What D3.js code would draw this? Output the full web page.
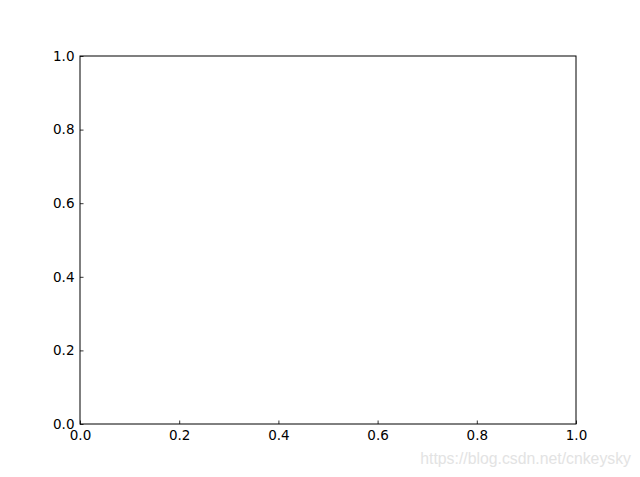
<!DOCTYPE html>
<html>
<head>
<meta charset="utf-8">
<script src="https://cdn.jsdelivr.net/npm/d3@7"></script>
<style>
  body { margin: 0; background: #fff; }
  svg { display: block; }
</style>
</head>
<body>
<svg></svg>
<script>
    const svgWidth = 640;
    const svgHeight = 477;

    // axis domains and tick labels
    const xDomain = [0, 1];
    const yDomain = [0, 1];
    const xTicks = [0.0, 0.2, 0.4, 0.6, 0.8, 1.0];
    const yTicks = [0.0, 0.2, 0.4, 0.6, 0.8, 1.0];
    const watermark = "https://blog.csdn.net/cnkeysky";

    const margin = { top: 56, right: 64, bottom: 53, left: 80 };
    const width = svgWidth - margin.left - margin.right;
    const height = svgHeight - margin.top - margin.bottom;

    const svg = d3.select("svg")
        .attr("width", svgWidth)
        .attr("height", svgHeight);

    const x = d3.scaleLinear().domain(xDomain).range([0, width]);
    const y = d3.scaleLinear().domain(yDomain).range([height, 0]);

    const g = svg.append("g")
        .attr("transform", `translate(${margin.left},${margin.top})`);

    // bottom axis, ticks pointing inward
    const xAxis = g.append("g")
        .attr("transform", `translate(0,${height})`)
        .call(d3.axisBottom(x).tickValues(xTicks).tickFormat(d3.format(".1f"))
            .tickSizeInner(-3.5).tickSizeOuter(0).tickPadding(6.5));

    const yAxis = g.append("g")
        .call(d3.axisLeft(y).tickValues(yTicks).tickFormat(d3.format(".1f"))
            .tickSizeInner(-3.5).tickSizeOuter(0).tickPadding(5.5));

    [xAxis, yAxis].forEach(a => {
        a.select(".domain").remove();
        a.selectAll("line").attr("stroke", "#000").attr("stroke-width", 0.8);
        a.selectAll("text")
            .attr("fill", "#000")
            .style("font-family", "DejaVu Sans")
            .style("font-size", "13.5px");
    });

    // frame
    g.append("rect")
        .attr("x", 0)
        .attr("y", 0)
        .attr("width", width)
        .attr("height", height)
        .attr("fill", "none")
        .attr("stroke", "#000")
        .attr("stroke-width", 1);

    svg.append("text")
        .attr("x", 631)
        .attr("y", 464)
        .attr("text-anchor", "end")
        .style("font-family", "Liberation Sans")
        .style("font-size", "15.8px")
        .attr("fill", "#e3e3e3")
        .text(watermark);
</script>
</body>
</html>
